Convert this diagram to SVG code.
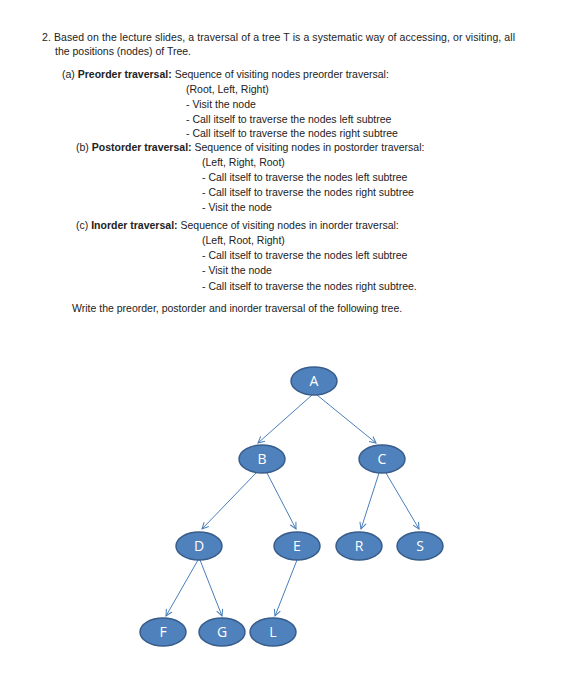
<svg xmlns="http://www.w3.org/2000/svg" width="576" height="676" viewBox="0 0 576 676">
<defs>
<marker id="arr" viewBox="0 0 10 10" refX="9" refY="5" markerWidth="8" markerHeight="8" markerUnits="userSpaceOnUse" orient="auto">
<path d="M1,1 L9,5 L1,9" fill="none" stroke="#4A7EBB" stroke-width="1.3"/>
</marker>
<style>
.t{font-family:"Liberation Sans",Arial,sans-serif;font-size:10.5px;fill:#222}
.b{font-weight:bold}
.n ellipse{fill:#4F81BD;stroke:#385D8A;stroke-width:1.5}
.n text{font-family:"Open Sans","Noto Sans",sans-serif;font-size:14px;fill:#fff;text-anchor:middle}
.e line{stroke:#4A7EBB;stroke-width:1;marker-end:url(#arr)}
</style>
</defs>
<rect width="576" height="676" fill="#fff"/>
<g id="text">
<text class="t" x="42" y="41" textLength="473" lengthAdjust="spacing">2. Based on the lecture slides, a traversal of a tree T  is a systematic way of accessing, or visiting, all</text>
<text class="t" x="55" y="55">the positions (nodes) of Tree.</text>
<text class="t" x="62" y="78">(a) <tspan class="b">Preorder traversal:</tspan>  Sequence of visiting nodes preorder traversal:</text>
<text class="t" x="186" y="93">(Root, Left, Right)</text>
<text class="t" x="186" y="108">- Visit the node</text>
<text class="t" x="186" y="123">- Call itself to traverse the nodes left subtree</text>
<text class="t" x="186" y="137">- Call itself to traverse the nodes right subtree</text>
<text class="t" x="76" y="151">(b) <tspan class="b">Postorder traversal:</tspan>  Sequence of visiting nodes in postorder traversal:</text>
<text class="t" x="202" y="166">(Left, Right, Root)</text>
<text class="t" x="202" y="181">- Call itself to traverse the nodes left subtree</text>
<text class="t" x="202" y="196">- Call itself to traverse the nodes right subtree</text>
<text class="t" x="202" y="211">- Visit the node</text>
<text class="t" x="76" y="229">(c) <tspan class="b">Inorder traversal:</tspan>  Sequence of visiting nodes in inorder traversal:</text>
<text class="t" x="202" y="244">(Left, Root, Right)</text>
<text class="t" x="202" y="259">- Call itself to traverse the nodes left subtree</text>
<text class="t" x="202" y="274">- Visit the node</text>
<text class="t" x="202" y="290">- Call itself to traverse the nodes right subtree.</text>
<text class="t" x="72" y="312">Write the preorder, postorder and inorder traversal of the following tree.</text>
</g>
<g id="connectors" class="e">
<line x1="312" y1="395" x2="258" y2="443"/>
<line x1="317" y1="395" x2="376" y2="443"/>
<line x1="256" y1="473" x2="202" y2="529"/>
<line x1="267" y1="473" x2="296" y2="529"/>
<line x1="379" y1="473" x2="361" y2="529"/>
<line x1="386" y1="473" x2="419" y2="529"/>
<line x1="198" y1="560" x2="166" y2="616"/>
<line x1="200" y1="560" x2="222" y2="616"/>
<line x1="297" y1="560" x2="275" y2="616"/>
</g>
<g id="A" class="n"><ellipse cx="314" cy="381" rx="23" ry="14"/><text x="314" y="386">A</text></g>
<g id="B" class="n"><ellipse cx="262" cy="459" rx="23" ry="14"/><text x="262" y="464">B</text></g>
<g id="C" class="n"><ellipse cx="382" cy="459" rx="23" ry="14"/><text x="382" y="464">C</text></g>
<g id="D" class="n"><ellipse cx="199" cy="546" rx="23" ry="14"/><text x="199" y="551">D</text></g>
<g id="E" class="n"><ellipse cx="297" cy="546" rx="23" ry="14"/><text x="297" y="551">E</text></g>
<g id="R" class="n"><ellipse cx="359" cy="546" rx="23" ry="14"/><text x="359" y="551">R</text></g>
<g id="S" class="n"><ellipse cx="420" cy="546" rx="23" ry="14"/><text x="420" y="551">S</text></g>
<g id="F" class="n"><ellipse cx="163" cy="632" rx="23" ry="14"/><text x="163" y="637">F</text></g>
<g id="G" class="n"><ellipse cx="222" cy="632" rx="23" ry="14"/><text x="222" y="637">G</text></g>
<g id="L" class="n"><ellipse cx="273" cy="632" rx="23" ry="14"/><text x="273" y="637">L</text></g>
</svg>
